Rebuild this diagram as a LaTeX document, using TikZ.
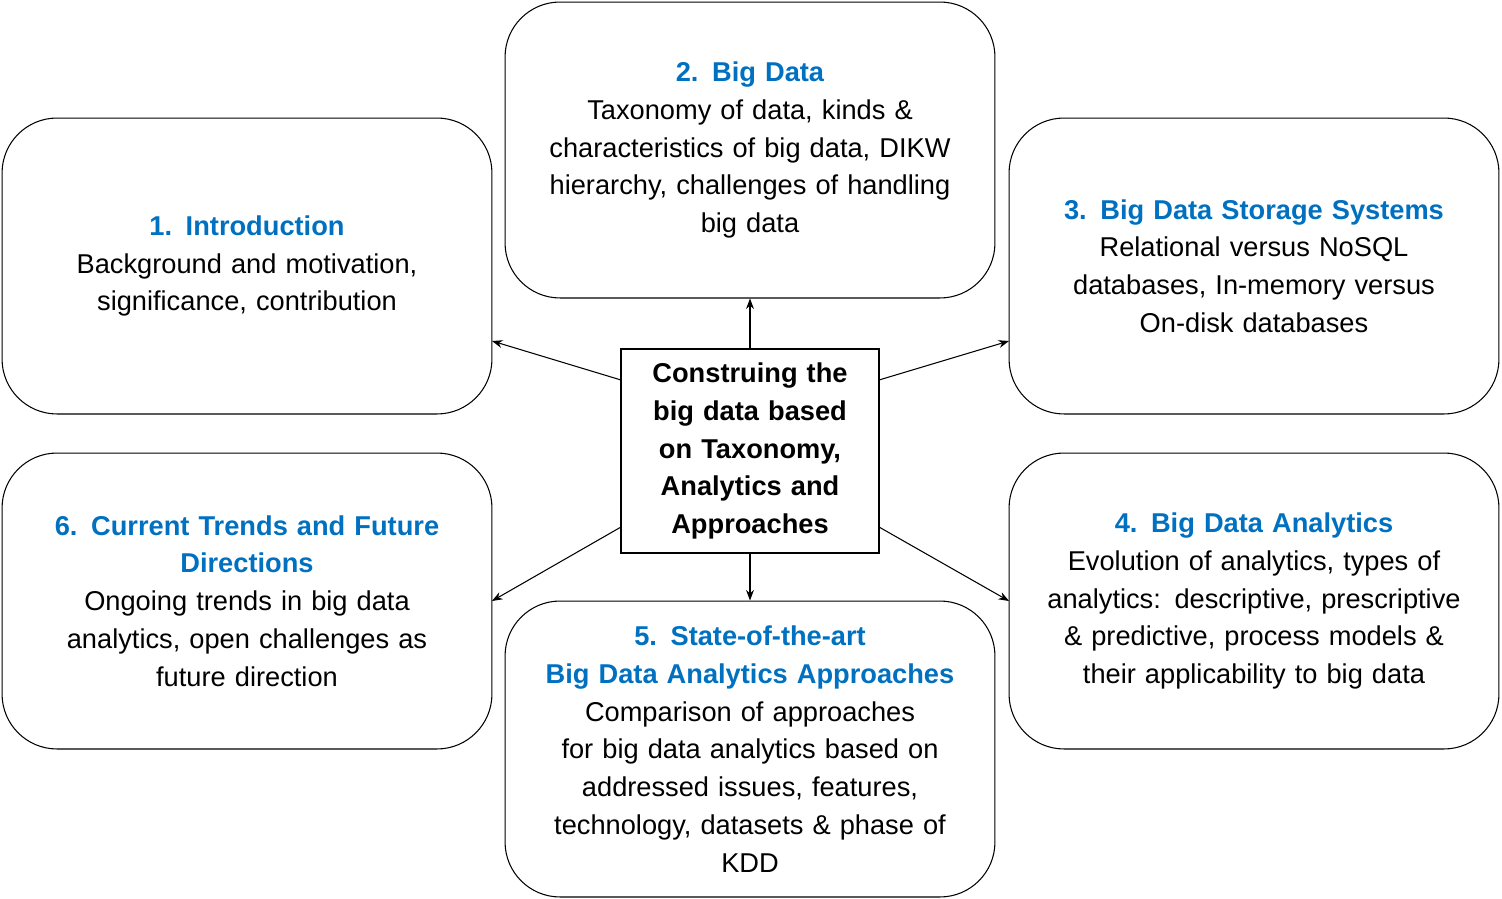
\documentclass[tikz,border=0pt]{standalone}
\usepackage{fontspec}
\setmainfont{Liberation Sans}
\usetikzlibrary{arrows.meta}
\definecolor{tblue}{RGB}{0,112,192}
\begin{document}
\begin{tikzpicture}[x=0.02cm,y=-0.02cm,
  box/.style={draw,line width=0.6pt,rounded corners=1.1cm,minimum width=9.8cm,minimum height=5.92cm,align=center,text width=9.5cm,font=\fontsize{15.5}{21.5}\selectfont,inner sep=0pt},
  ctr/.style={draw,line width=0.9pt,minimum width=5.16cm,minimum height=4.08cm,align=center,text width=5cm,font=\bfseries\fontsize{15.5}{21.5}\selectfont,inner sep=0pt},
  arr/.style={-{Stealth[length=6pt,width=4.5pt]},line width=0.6pt},
  ttl/.style={color=tblue,font=\bfseries}]
\useasboundingbox (0,0) rectangle (1502,899);
\node[box] (b1) at (247,266) {{\color{tblue}\bfseries 1. Introduction}\\Background and motivation,\\significance, contribution};
\node[box] (b2) at (750,150) {{\color{tblue}\bfseries 2. Big Data}\\Taxonomy of data, kinds \&\\characteristics of big data, DIKW\\hierarchy, challenges of handling\\big data};
\node[box] (b3) at (1254,266) {{\color{tblue}\bfseries 3. Big Data Storage Systems}\\Relational versus NoSQL\\databases, In-memory versus\\On-disk databases};
\node[box] (b6) at (247,601) {{\color{tblue}\bfseries 6. Current Trends and Future\\Directions}\\Ongoing trends in big data\\analytics, open challenges as\\future direction};
\node[box] (b4) at (1254,601) {{\color{tblue}\bfseries 4. Big Data Analytics}\\Evolution of analytics, types of\\analytics: descriptive, prescriptive\\\& predictive, process models \&\\their applicability to big data};
\node[box] (b5) at (750,749) {{\color{tblue}\bfseries 5. State-of-the-art\\Big Data Analytics Approaches}\\Comparison of approaches\\for big data analytics based on\\addressed issues, features,\\technology, datasets \& phase of\\KDD};
\node[ctr] (c) at (750,451) {Construing the\\big data based\\on Taxonomy,\\Analytics and\\Approaches};
\coordinate (cl1) at (621,380); \coordinate (cr1) at (879,380);
\coordinate (cl2) at (621,527); \coordinate (cr2) at (879,527);
\coordinate (e1) at (492,341); \coordinate (e3) at (1009,341);
\coordinate (e6) at (492,601); \coordinate (e4) at (1009,601);
\draw[arr] (cl1) -- (e1);
\draw[arr] (cr1) -- (e3);
\draw[arr] (cl2) -- (e6);
\draw[arr] (cr2) -- (e4);
\draw[arr] (c.north) -- (b2.south);
\draw[arr] (c.south) -- (b5.north);
\end{tikzpicture}
\end{document}
